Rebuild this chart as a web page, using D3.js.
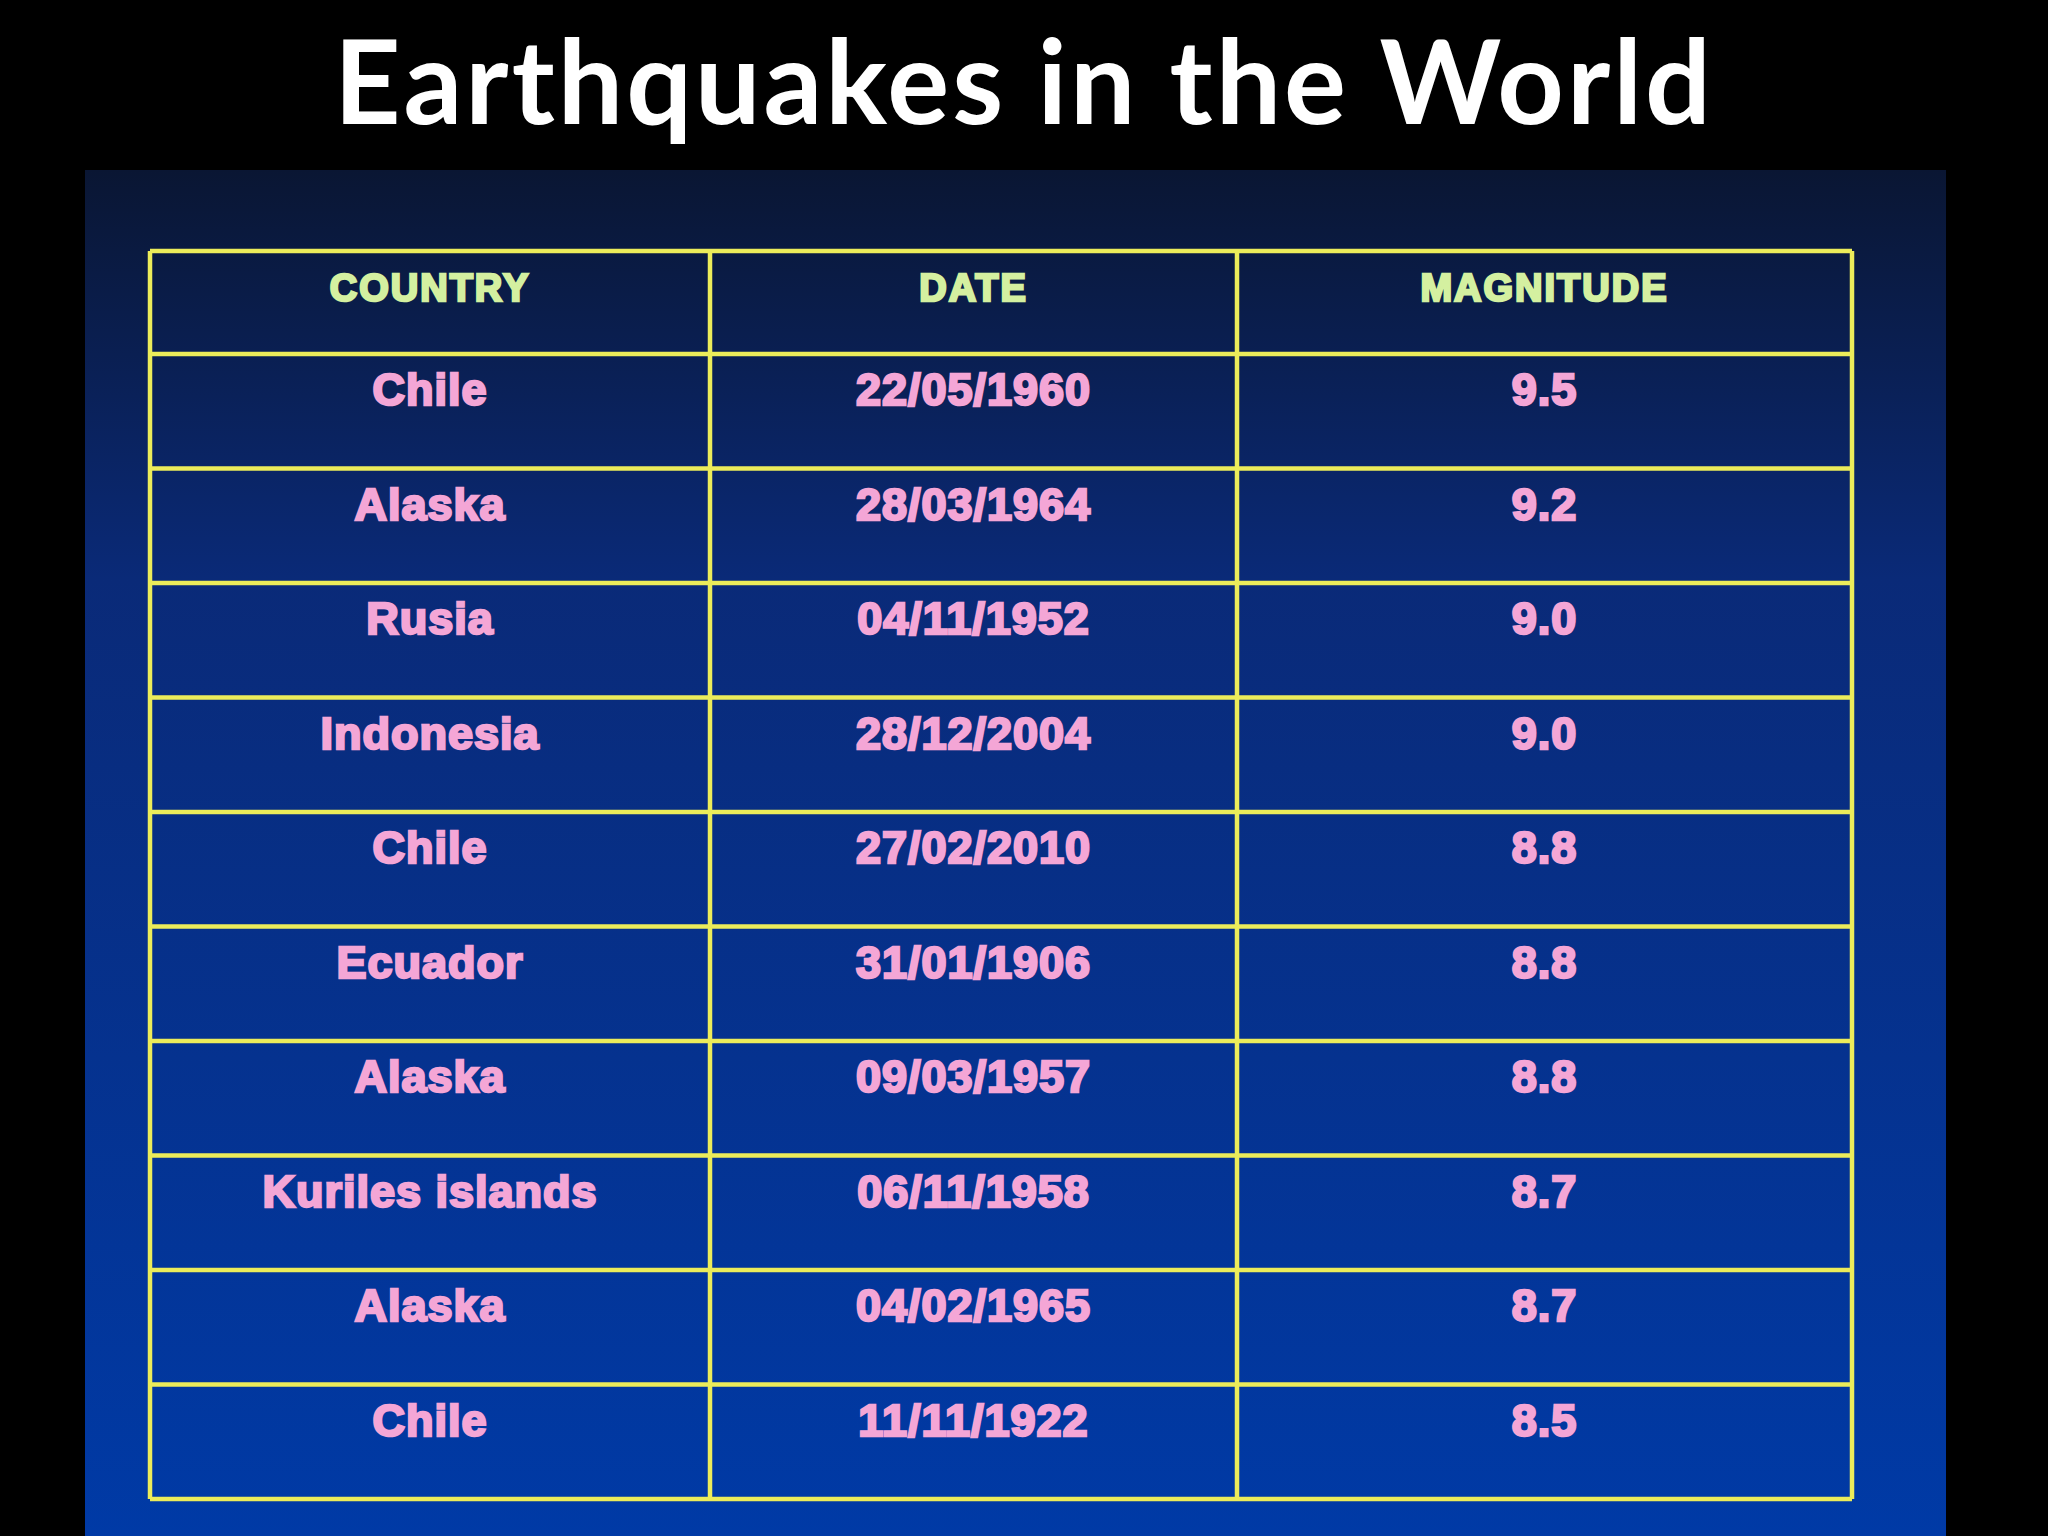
<!DOCTYPE html>
<html>
<head>
<meta charset="utf-8">
<script src="https://cdn.jsdelivr.net/npm/d3@7"></script>
<style>
  html, body { margin: 0; padding: 0; background: #000; }
</style>
</head>
<body>
<div id="chart"></div>
<script>
const title = 'Earthquakes in the World';
const headers = ['COUNTRY', 'DATE', 'MAGNITUDE'];
const countries = ['Chile', 'Alaska', 'Rusia', 'Indonesia', 'Chile', 'Ecuador', 'Alaska', 'Kuriles islands', 'Alaska', 'Chile'];
const dates = ['22/05/1960', '28/03/1964', '04/11/1952', '28/12/2004', '27/02/2010', '31/01/1906', '09/03/1957', '06/11/1958', '04/02/1965', '11/11/1922'];
const magnitudes = [9.5, 9.2, 9.0, 9.0, 8.8, 8.8, 8.8, 8.7, 8.7, 8.5];

const W = 2048, H = 1536;
const svg = d3.select('#chart').append('svg').attr('width', W).attr('height', H);

const defs = svg.append('defs');
const grad = defs.append('linearGradient').attr('id', 'bg').attr('x1', 0).attr('y1', 0).attr('x2', 0).attr('y2', 1);
grad.append('stop').attr('offset', '0%').attr('stop-color', '#0a1633');
grad.append('stop').attr('offset', '30%').attr('stop-color', '#0a2a78');
grad.append('stop').attr('offset', '100%').attr('stop-color', '#003aa6');

svg.append('rect').attr('width', W).attr('height', H).attr('fill', '#000');
svg.append('rect').attr('x', 85).attr('y', 170).attr('width', 1861).attr('height', H - 170).attr('fill', 'url(#bg)');

svg.append('text').attr('x', 1024).attr('y', 124).attr('text-anchor', 'middle')
  .attr('fill', '#fff').attr('font-family', '"Comic Sans MS", Lato, sans-serif')
  .attr('font-weight', 'bold').attr('font-size', 116).attr('letter-spacing', 3).text(title);

const colEdges = [150, 710, 1237, 1852];
const colC = i => (colEdges[i] + colEdges[i + 1]) / 2;

const rows = d3.range(countries.length);
const y = d3.scaleBand().domain(rows).range([354, 1499]);
const headerTop = 251;

const grid = svg.append('g').attr('stroke', '#ecec5a').attr('stroke-width', 4.5);
const hLines = [headerTop].concat(rows.map(r => y(r)), [1499]);
grid.selectAll('line.h').data(hLines).enter().append('line')
  .attr('x1', 150).attr('x2', 1852).attr('y1', d => d).attr('y2', d => d);
grid.selectAll('line.v').data(colEdges).enter().append('line')
  .attr('y1', headerTop).attr('y2', 1499).attr('x1', d => d).attr('x2', d => d);

const font = '"Liberation Sans", Arial, sans-serif';
svg.selectAll('text.hdr').data(headers).enter().append('text')
  .attr('x', (d, i) => colC(i)).attr('y', headerTop + 50)
  .attr('text-anchor', 'middle').attr('fill', '#d4f0a0')
  .attr('stroke', '#d4f0a0').attr('stroke-width', 2.5).attr('letter-spacing', 2)
  .attr('font-family', font).attr('font-weight', 'bold').attr('font-size', 38).text(d => d);

const cols = [countries, dates, magnitudes.map(m => m.toFixed(1))];
cols.forEach((vals, ci) => {
  svg.selectAll('text.c' + ci).data(vals).enter().append('text')
    .attr('x', colC(ci)).attr('y', (d, i) => y(i) + 51)
    .attr('text-anchor', 'middle').attr('fill', '#f4a6d6')
    .attr('stroke', '#f4a6d6').attr('stroke-width', 2.5).attr('letter-spacing', 1)
    .attr('font-family', font).attr('font-weight', 'bold').attr('font-size', 45).text(d => d);
});
</script>
</body>
</html>
